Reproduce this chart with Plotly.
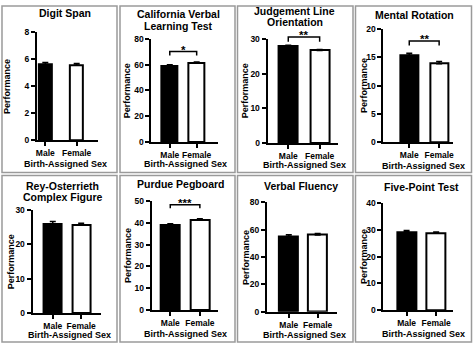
import plotly.graph_objects as go

# ---------------- data ----------------
tests = [["Digit Span"], ["California Verbal", "Learning Test"], ["Judgement Line", "Orientation"],
         ["Mental Rotation"], ["Rey-Osterrieth", "Complex Figure"], ["Purdue Pegboard"],
         ["Verbal Fluency"], ["Five-Point Test"]]
sexes = ["Male", "Female"]
male_mean = [5.6, 58.8, 27.9, 15.4, 25.9, 38.9, 55.1, 29.3]
female_mean = [5.55, 61.3, 26.7, 13.9, 25.6, 41.3, 56.2, 28.7]
male_sem = [0.15, 1.2, 0.3, 0.35, 0.7, 0.6, 1.2, 0.5]
female_sem = [0.12, 0.8, 0.3, 0.4, 0.5, 0.5, 1.0, 0.5]
y_max = [8, 80, 30, 20, 30, 50, 80, 40]
y_step = [2, 20, 10, 5, 10, 10, 20, 10]
significance = ["", "*", "**", "**", "", "***", "", ""]
x_title = "Birth-Assigned Sex"
y_title = "Performance"

# ---------------- layout geometry (pixels) ----------------
W, H = 474, 348
geom = [
    dict(axL=36, axR=97, c0=44.5, c1=76, w=13, top=28, bot=139, box=(1, 1, 116.5, 172.5),
         tx=64, ty=[8], ylx=6, xlx=64.5, xly=163.3, br=None),
    dict(axL=151, axR=218, c0=169.5, c1=196.5, w=16, top=35, bot=141, box=(119.5, 1, 235, 172.5),
         tx=178.5, ty=[9.5, 21.5], ylx=127.3, xlx=185.5, xly=164, br=(70.2, 67.2)),
    dict(axL=267.7, axR=338, c0=288.5, c1=320, w=19, top=35, bot=142, box=(237.5, 1, 353.5, 172.5),
         tx=295, ty=[6.5, 17.5], ylx=245.3, xlx=305, xly=165, br=(30.6, 29.2)),
    dict(axL=384, axR=454, c0=410, c1=440, w=18, top=25, bot=141, box=(356, 1, 472.5, 172.5),
         tx=415, ty=[10], ylx=364, xlx=424, xly=165.7, br=(17.9, 17.1)),
    dict(axL=31.7, axR=100, c0=52, c1=80.5, w=18, top=211, bot=317, box=(1, 175.5, 116.5, 347),
         tx=62, ty=[186, 198], ylx=10, xlx=69, xly=340, br=None),
    dict(axL=151.3, axR=218, c0=170, c1=199.7, w=19, top=201.7, bot=314, box=(119.5, 175.5, 235, 347),
         tx=180.7, ty=[184], ylx=128, xlx=185.5, xly=338.3, br=(48.2, 46.6)),
    dict(axL=267, axR=337.7, c0=289, c1=318, w=19, top=203.3, bot=315.7, box=(237.5, 175.5, 353.5, 347),
         tx=301, ty=[186], ylx=246, xlx=305, xly=339.7, br=None),
    dict(axL=384, axR=454, c0=407.3, c1=437, w=19, top=204, bot=314, box=(356, 175.5, 472.5, 347),
         tx=422.7, ty=[187], ylx=364, xlx=424, xly=338.3, br=None),
]

FONT = "Liberation Sans, Arial, sans-serif"


def px(x):
    return x / W


def py(y):
    return 1 - y / H


fig = go.Figure()
annotations = []
shapes = []
layout = {}

for i in range(8):
    g = geom[i]
    n = i + 1
    xa = "x" if n == 1 else f"x{n}"
    ya = "y" if n == 1 else f"y{n}"
    u = g["c1"] - g["c0"]
    xr = [(g["axL"] - g["c0"]) / u, (g["axR"] - g["c0"]) / u]
    bw = g["w"] / u

    fig.add_trace(go.Bar(
        x=[0, 1], y=[male_mean[i], female_mean[i]],
        width=bw,
        marker=dict(color=["black", "white"], line=dict(color="black", width=2)),
        error_y=dict(type="data", symmetric=False, array=[male_sem[i], female_sem[i]],
                     arrayminus=[0, 0], color="black", thickness=1.5, width=3),
        xaxis=xa, yaxis=ya, showlegend=False, hoverinfo="skip",
    ))

    layout[f"xaxis{n}"] = dict(
        domain=[px(g["axL"]), px(g["axR"])], range=xr, anchor=ya,
        tickmode="array", tickvals=[0, 1], ticktext=sexes, tickangle=0,
        showline=True, linecolor="black", linewidth=2,
        ticks="outside", ticklen=4, tickwidth=2, tickcolor="black",
        showgrid=False, zeroline=False, fixedrange=True,
        tickfont=dict(family=FONT, size=8.5, color="black", weight="bold"),
    )
    layout[f"yaxis{n}"] = dict(
        domain=[py(g["bot"]), py(g["top"])], range=[0, y_max[i]], anchor=xa,
        tickmode="linear", tick0=0, dtick=y_step[i],
        showline=True, linecolor="black", linewidth=2,
        ticks="outside", ticklen=4, tickwidth=2, tickcolor="black",
        showgrid=False, zeroline=False, fixedrange=True,
        tickfont=dict(family=FONT, size=8.5, color="black", weight="bold"),
    )

    # panel border
    x0, y0, x1, y1 = g["box"]
    shapes.append(dict(type="rect", xref="paper", yref="paper",
                       x0=px(x0), x1=px(x1), y0=py(y1), y1=py(y0),
                       line=dict(color="#9a9a9a", width=1.5), fillcolor="rgba(0,0,0,0)"))

    # title
    for line, ty in zip(tests[i], g["ty"]):
        annotations.append(dict(text=line, xref="paper", yref="paper", x=px(g["tx"]), y=py(ty),
                                xanchor="center", yanchor="middle", showarrow=False,
                                font=dict(family=FONT, size=10.5, color="black", weight="bold")))
    # y title
    annotations.append(dict(text=y_title, xref="paper", yref="paper", x=px(g["ylx"]),
                            y=py((g["top"] + g["bot"]) / 2), textangle=-90,
                            xanchor="center", yanchor="middle", showarrow=False,
                            font=dict(family=FONT, size=9, color="black", weight="bold")))
    # x title
    annotations.append(dict(text=x_title, xref="paper", yref="paper", x=px(g["xlx"]), y=py(g["xly"]),
                            xanchor="center", yanchor="middle", showarrow=False,
                            font=dict(family=FONT, size=9, color="black", weight="bold")))

    # significance bracket
    if significance[i] and g["br"]:
        lvl, drop = g["br"]
        yd = f"{ya} domain"
        ym = y_max[i]
        shapes.append(dict(type="path", xref=xa, yref=yd,
                           path=f"M 0,{drop/ym} L 0,{lvl/ym} L 1,{lvl/ym} L 1,{drop/ym}",
                           line=dict(color="black", width=1.5)))
        annotations.append(dict(text=significance[i], xref=xa, yref=yd, x=0.5, y=lvl / ym,
                                xanchor="center", yanchor="bottom", yshift=-5, showarrow=False,
                                borderpad=0,
                                font=dict(family=FONT, size=11.5, color="black", weight="bold")))

fig.update_layout(
    width=W, height=H, margin=dict(l=0, r=0, t=0, b=0),
    paper_bgcolor="white", plot_bgcolor="white",
    annotations=annotations, shapes=shapes, bargap=0,
    **layout,
)

fig.write_html("out.html")
